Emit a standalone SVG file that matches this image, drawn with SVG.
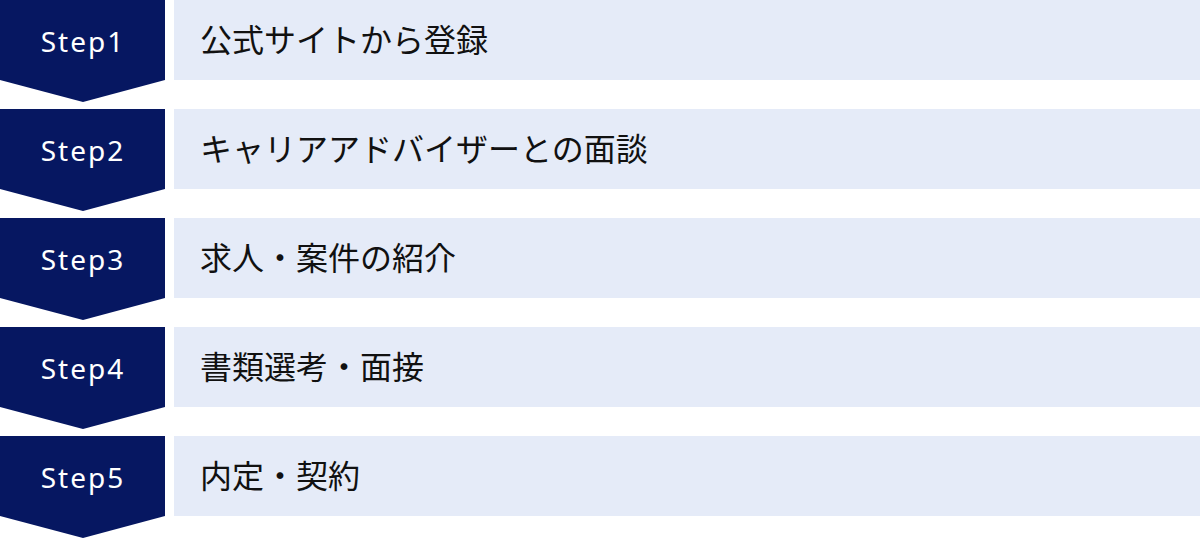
<svg xmlns="http://www.w3.org/2000/svg" width="1200" height="538" viewBox="0 0 1200 538">
<style>
.badge{fill:#061761}
.bar{fill:#E5EBF8}
.step{font-family:"Noto Sans","Noto Sans CJK JP",sans-serif;font-size:28px;fill:#ffffff;text-anchor:middle;letter-spacing:2px}
.label{font-family:"Noto Sans CJK JP","Noto Sans",sans-serif;font-size:32px;fill:#111111}
</style>
<defs>
<path id="chev" d="M0 0H165V80L83 102L0 80Z"/>
</defs>
<rect width="1200" height="538" fill="#ffffff"/>
<g id="step1" transform="translate(0,0)">
<use href="#chev" class="badge"/>
<rect class="bar" x="174" y="0" width="1026" height="80"/>
<text class="step" x="83" y="51.5">Step1</text>
<text class="label" x="200" y="52">公式サイトから登録</text>
</g>
<g id="step2" transform="translate(0,109)">
<use href="#chev" class="badge"/>
<rect class="bar" x="174" y="0" width="1026" height="80"/>
<text class="step" x="83" y="51.5">Step2</text>
<text class="label" x="200" y="52">キャリアアドバイザーとの面談</text>
</g>
<g id="step3" transform="translate(0,218)">
<use href="#chev" class="badge"/>
<rect class="bar" x="174" y="0" width="1026" height="80"/>
<text class="step" x="83" y="51.5">Step3</text>
<text class="label" x="200" y="52">求人・案件の紹介</text>
</g>
<g id="step4" transform="translate(0,327)">
<use href="#chev" class="badge"/>
<rect class="bar" x="174" y="0" width="1026" height="80"/>
<text class="step" x="83" y="51.5">Step4</text>
<text class="label" x="200" y="52">書類選考・面接</text>
</g>
<g id="step5" transform="translate(0,436)">
<use href="#chev" class="badge"/>
<rect class="bar" x="174" y="0" width="1026" height="80"/>
<text class="step" x="83" y="51.5">Step5</text>
<text class="label" x="200" y="52">内定・契約</text>
</g>
<g id="connectors"/>
</svg>
